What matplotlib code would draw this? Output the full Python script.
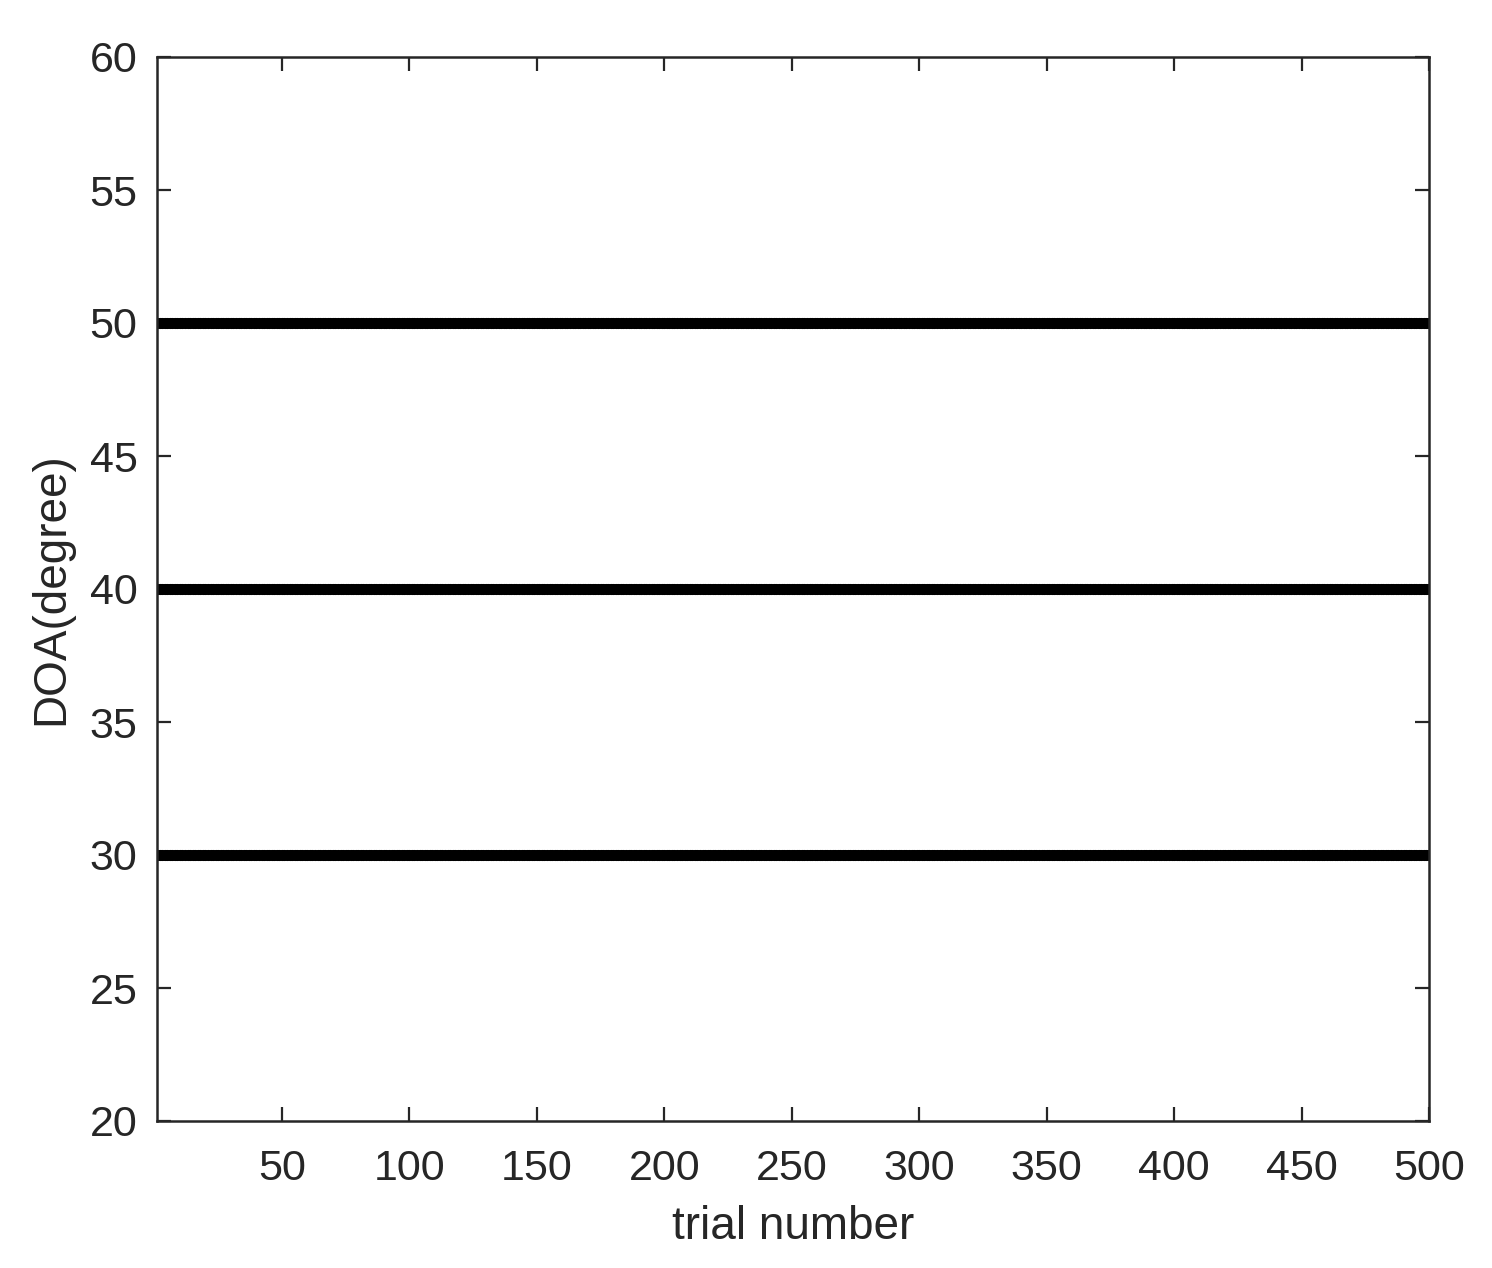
import numpy as np
import matplotlib
matplotlib.use("Agg")
import matplotlib.pyplot as plt

plt.rcParams['font.family'] = ['Liberation Sans', 'DejaVu Sans']

# trial numbers and estimated DOAs (estimates sit on the true angles)
trials = np.arange(1, 501)
doa_1 = np.full(trials.size, 30.0)
doa_2 = np.full(trials.size, 40.0)
doa_3 = np.full(trials.size, 50.0)

x_ticks = [50, 100, 150, 200, 250, 300, 350, 400, 450, 500]
y_ticks = [20, 25, 30, 35, 40, 45, 50, 55, 60]

fig = plt.figure(figsize=(7.46, 6.34), dpi=200)
ax = fig.add_axes([157 / 1492, 1 - 1121 / 1268, 1272 / 1492, 1064 / 1268])

for doa in (doa_1, doa_2, doa_3):
    ax.plot(trials, doa, '.-', color='black', markersize=6, linewidth=3)

ax.set_xlim(1, 500)
ax.set_ylim(20, 60)
ax.set_xticks(x_ticks)
ax.set_yticks(y_ticks)
ax.tick_params(direction='in', top=True, right=True, length=5, width=0.8,
               labelsize=15.5, colors='#262626')
ax.tick_params(axis='x', pad=10)
ax.tick_params(axis='y', pad=7)
for s in ax.spines.values():
    s.set_linewidth(0.9)
    s.set_color('#262626')
ax.set_xlabel('trial number', fontsize=16.5, color='#262626', labelpad=6)
ax.set_ylabel('DOA(degree)', fontsize=16.5, color='#262626', labelpad=6)

fig.savefig('out.png', dpi=200)
